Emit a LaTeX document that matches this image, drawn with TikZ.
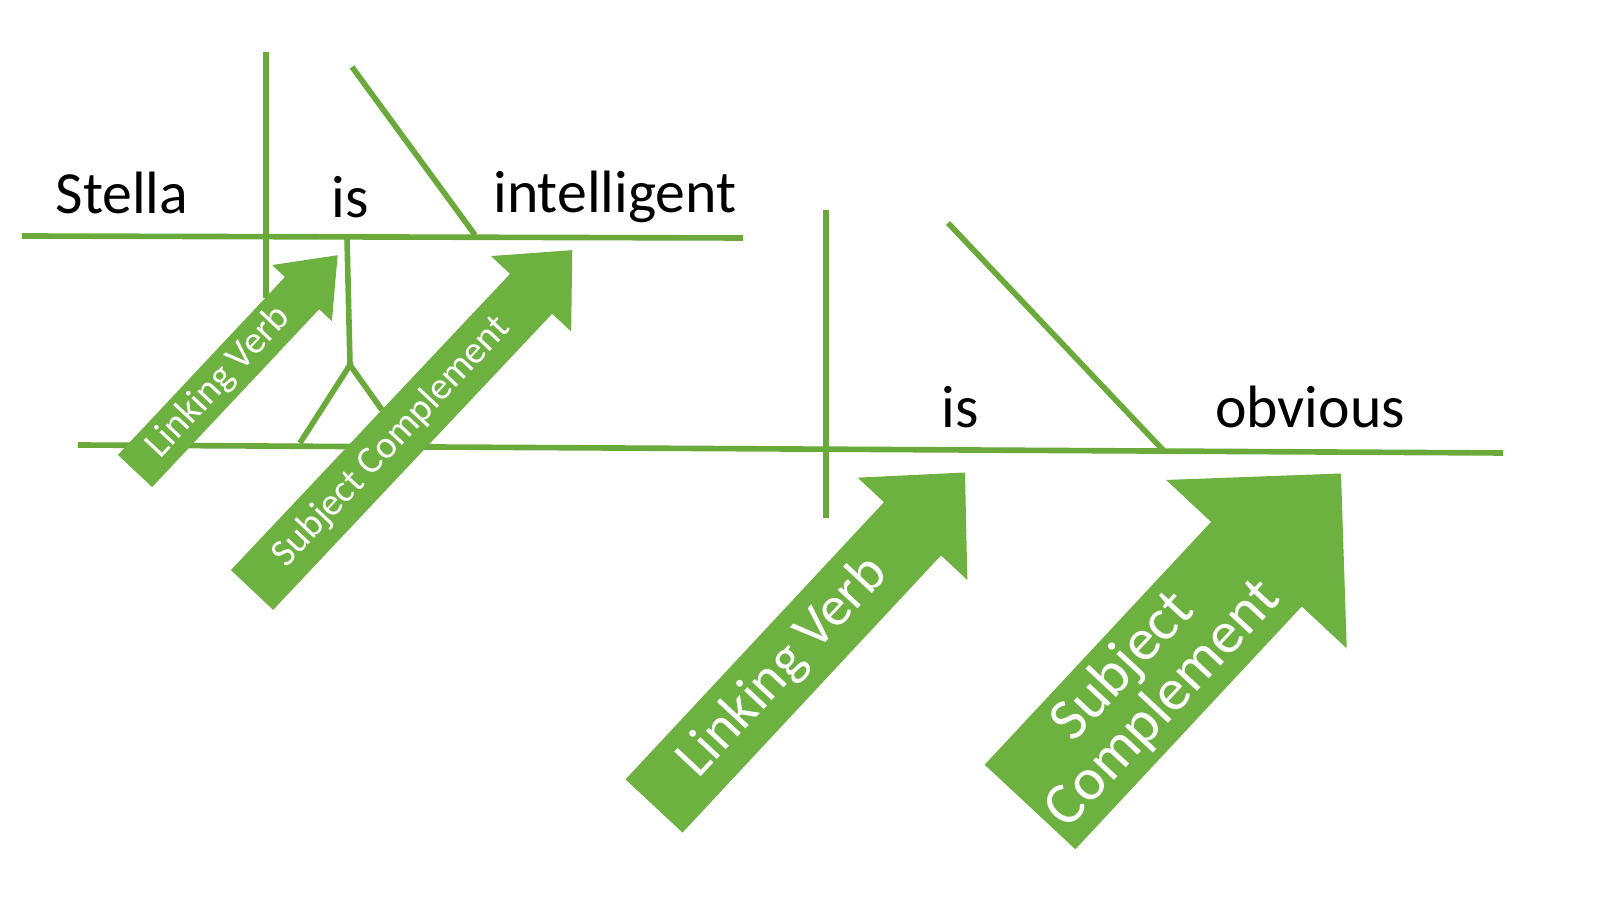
\documentclass[tikz,border=0pt]{standalone}
\usepackage{fontspec}
\setmainfont{Carlito}
\definecolor{lg}{HTML}{6AAA3A}
\definecolor{ag}{HTML}{6DB240}
\begin{document}
\begin{tikzpicture}[x=0.01cm,y=0.01cm,
  ln/.style={lg,line width=1.6pt},
  word/.style={font=\fontsize{17}{20}\selectfont,text=black},
  atext/.style={text=white,align=center,transform shape}]
\useasboundingbox (0,0) rectangle (1600,900);
\coordinate (t1) at (22,664); \coordinate (t2) at (743,662);
\coordinate (v1a) at (266,848); \coordinate (v1b) at (266,602);
\coordinate (s1a) at (352,833); \coordinate (s1b) at (475,665);
\coordinate (p1) at (347,662); \coordinate (p2) at (350,535);
\coordinate (p3) at (300,457); \coordinate (p4) at (382,490);
\coordinate (b1) at (78,455); \coordinate (b2) at (1503,447);
\coordinate (v2a) at (826,690); \coordinate (v2b) at (826,382);
\coordinate (s2a) at (948,677); \coordinate (s2b) at (1163,450);
\draw[ln] (t1) -- (t2);
\draw[ln] (v1a) -- (v1b);
\draw[ln] (s1a) -- (s1b);
\draw[ln] (p1) -- (p2) -- (p3);
\draw[ln] (p2) -- (p4);
\draw[ln] (b1) -- (b2);
\draw[ln] (v2a) -- (v2b);
\draw[ln] (s2a) -- (s2b);
\node[word] (w1) at (122,707) {Stella};
\node[word] (w2) at (350,703) {is};
\node[word] (w3) at (615,703) {intelligent};
\node[word] (w4) at (960,493) {is};
\node[word] (w5) at (1310,493) {obvious};
\newcommand{\barrow}[9]{%
\begin{scope}[shift={(#1,#2)},rotate=#3]
\fill[ag] (0,-#5/2) -- (#4-#7,-#5/2) -- (#4-#7,-#6/2) -- (#4,0) -- (#4-#7,#6/2) -- (#4-#7,#5/2) -- (0,#5/2) -- cycle;
\node[atext] (#8) at ({(#4-#7)/2},0) {#9};
\end{scope}}
\barrow{135}{429}{46.8}{296}{47}{82}{52}{a1}{\fontsize{11}{13}\selectfont Linking Verb}
\barrow{252}{310}{46.7}{467}{58}{110}{60}{a2}{\fontsize{11}{13}\selectfont Subject Complement}
\barrow{654}{94}{47}{456}{78}{150}{77}{a3}{\fontsize{16}{18}\selectfont Linking Verb}
\barrow{1030}{93}{47}{456}{124}{247}{124}{a4}{\fontsize{17}{20}\selectfont Subject\\ \fontsize{17}{20}\selectfont Complement}
\end{tikzpicture}
\end{document}
